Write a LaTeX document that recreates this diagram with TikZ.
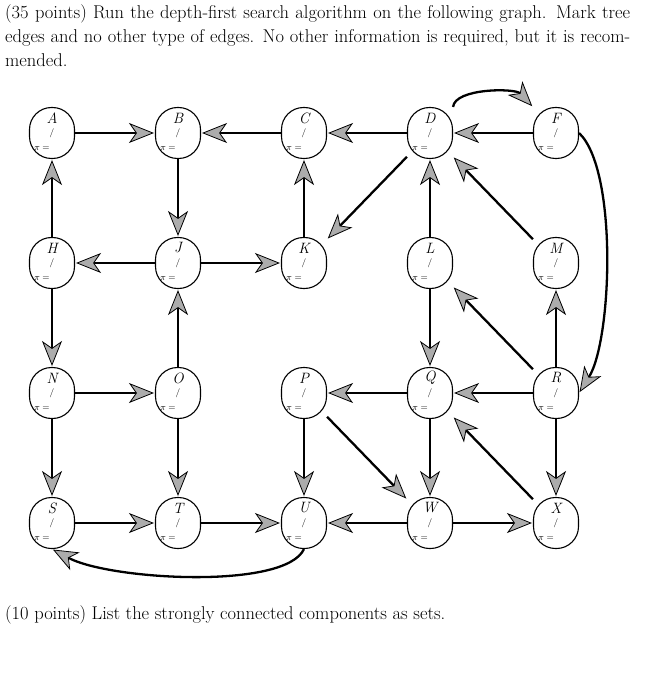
\documentclass[tikz,border=0pt]{standalone}
\usetikzlibrary{arrows.meta}
\begin{document}
\begin{tikzpicture}[x=1pt,y=-1pt,
  v/.style={draw,line width=1.1pt,minimum width=45pt,minimum height=51pt,rounded corners=22pt,inner sep=0pt},
  e/.style={line width=2.3pt,-{Stealth[length=25pt,width=20pt,inset=7pt,fill=gray!65,line width=0.8pt]},shorten >=1pt},
  lt/.style={inner sep=0pt,font=\fontsize{15}{15}\selectfont\itshape},
  sm/.style={inner sep=0pt,font=\fontsize{9}{9}\selectfont}]
\useasboundingbox (0,0) rectangle (650,700);
\node[anchor=north west,text width=625pt,align=justify,inner sep=0pt,font=\fontsize{18.5}{24}\selectfont] (t1) at (5,4)
{(35 points) Run the depth-first search algorithm on the following graph. Mark tree edges and no other type of edges. No other information is required, but it is recom\-mended.};
\node[anchor=west,inner sep=0pt,font=\fontsize{18.5}{24}\selectfont] (t2) at (5,615) {(10 points) List the strongly connected components as sets.};
\newcommand{\vx}[3]{%
  \node[v] (#1) at (#2,#3) {};
  \node[lt] (#1l) at ([yshift=15pt]#1.center) {#1};
  \node[sm] (#1s) at ([yshift=0pt]#1.center) {/};
  \node[sm] (#1p) at ([xshift=-10pt,yshift=-16pt]#1.center) {$\pi=$};}
\vx{A}{52}{133}\vx{B}{178}{133}\vx{C}{304}{133}\vx{D}{430}{133}\vx{F}{556}{133}
\vx{H}{52}{263}\vx{J}{178}{263}\vx{K}{304}{263}\vx{L}{430}{263}\vx{M}{556}{263}
\vx{N}{52}{393}\vx{O}{178}{393}\vx{P}{304}{393}\vx{Q}{430}{393}\vx{R}{556}{393}
\vx{S}{52}{523}\vx{T}{178}{523}\vx{U}{304}{523}\vx{W}{430}{523}\vx{X}{556}{523}
\foreach \a/\b in {A/B,C/B,D/C,F/D,D/K,L/D,M/D,H/A,B/J,K/C,J/H,J/K,O/J,H/N,N/O,R/M,R/L,L/Q,R/Q,Q/P,R/X,P/W,Q/W,X/Q,P/U,N/S,O/T,S/T,T/U,W/U,W/X}
  \draw[e] (\a) -- (\b);
\draw[e] (D.north east) .. controls (455,88) and (515,88) .. (F.north west);
\draw[e] (F.east) .. controls (618,170) and (612,340) .. (R.east);
\draw[e] (U.south) .. controls (285,590) and (110,580) .. (S.south);
\end{tikzpicture}
\end{document}
